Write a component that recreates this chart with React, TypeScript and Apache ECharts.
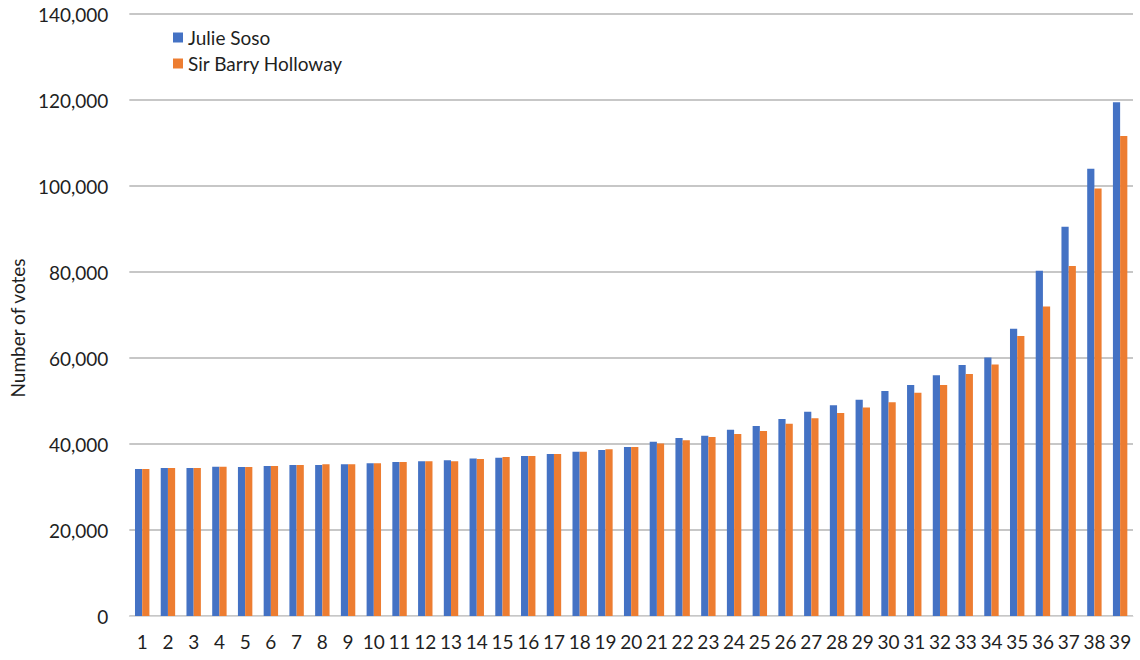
import React, { useEffect, useRef } from "react";
import * as echarts from "echarts";

const categories: string[] = Array.from({ length: 39 }, (_, i) => String(i + 1));

const julieSoso: number[] = [
  34200, 34400, 34400, 34700, 34650, 34900, 35100, 35100, 35300, 35500,
  35800, 36000, 36200, 36600, 36800, 37200, 37700, 38200, 38600, 39300,
  40500, 41400, 41900, 43300, 44200, 45800, 47500, 49000, 50300, 52300,
  53700, 56000, 58400, 60100, 66800, 80300, 90500, 104000, 119500,
];

const sirBarryHolloway: number[] = [
  34200, 34400, 34400, 34700, 34650, 34900, 35100, 35300, 35300, 35500,
  35800, 36000, 36000, 36500, 37000, 37200, 37700, 38200, 38800, 39300,
  40100, 40900, 41600, 42300, 43000, 44700, 46000, 47200, 48500, 49700,
  51900, 53700, 56300, 58500, 65100, 72000, 81400, 99400, 111600,
];

const seriesNames: string[] = ["Julie Soso", "Sir Barry Holloway"];
const yTicks: number[] = [0, 20000, 40000, 60000, 80000, 100000, 120000, 140000];

export default function App() {
  const ref = useRef<HTMLDivElement>(null);
  useEffect(() => {
    if (!ref.current) return;
    const chart = echarts.init(ref.current, null, { renderer: "svg" });
    const font = "Lato, 'Open Sans', sans-serif";
    const txt = "#1f1f1f";
    chart.setOption({
      animation: false,
      textStyle: { fontFamily: font },
      color: ["#4472C4", "#ED7D31"],
      grid: { left: 126, right: 7, top: 14, bottom: 44, containLabel: false },
      legend: {
        orient: "vertical",
        left: 168,
        top: 23,
        itemWidth: 10,
        itemHeight: 10,
        itemGap: 7,
        icon: "rect",
        data: seriesNames,
        textStyle: { fontSize: 19, color: txt, fontFamily: font },
      },
      xAxis: {
        type: "category",
        data: categories,
        axisLine: { show: true, lineStyle: { color: "#d9d9d9", width: 1 } },
        axisTick: { show: false },
        axisLabel: {
          interval: 0,
          fontSize: 19,
          color: txt,
          margin: 16,
          fontFamily: font,
        },
      },
      yAxis: {
        type: "value",
        min: yTicks[0],
        max: yTicks[yTicks.length - 1],
        interval: 20000,
        name: "Number of votes",
        nameLocation: "middle",
        nameGap: 102,
        nameTextStyle: {
          fontSize: 19,
          color: txt,
          fontFamily: font,
          padding: [0, 26, 0, 0],
        },
        axisLine: { show: false },
        axisTick: { show: false },
        splitLine: { lineStyle: { color: "#b4b4b4", width: 1.5 } },
        axisLabel: {
          fontSize: 19,
          color: txt,
          margin: 21,
          fontFamily: font,
          formatter: (v: number) => v.toLocaleString("en-US"),
        },
      },
      series: [
        {
          name: seriesNames[0],
          type: "bar",
          data: julieSoso,
          barGap: "0%",
          barCategoryGap: "44%",
        },
        {
          name: seriesNames[1],
          type: "bar",
          data: sirBarryHolloway,
          barGap: "0%",
          barCategoryGap: "44%",
        },
      ],
    });
    return () => chart.dispose();
  }, []);
  return (
    <div
      ref={ref}
      style={{ position: "fixed", left: 0, top: 0, width: 1140, height: 660, background: "#fff" }}
    />
  );
}
